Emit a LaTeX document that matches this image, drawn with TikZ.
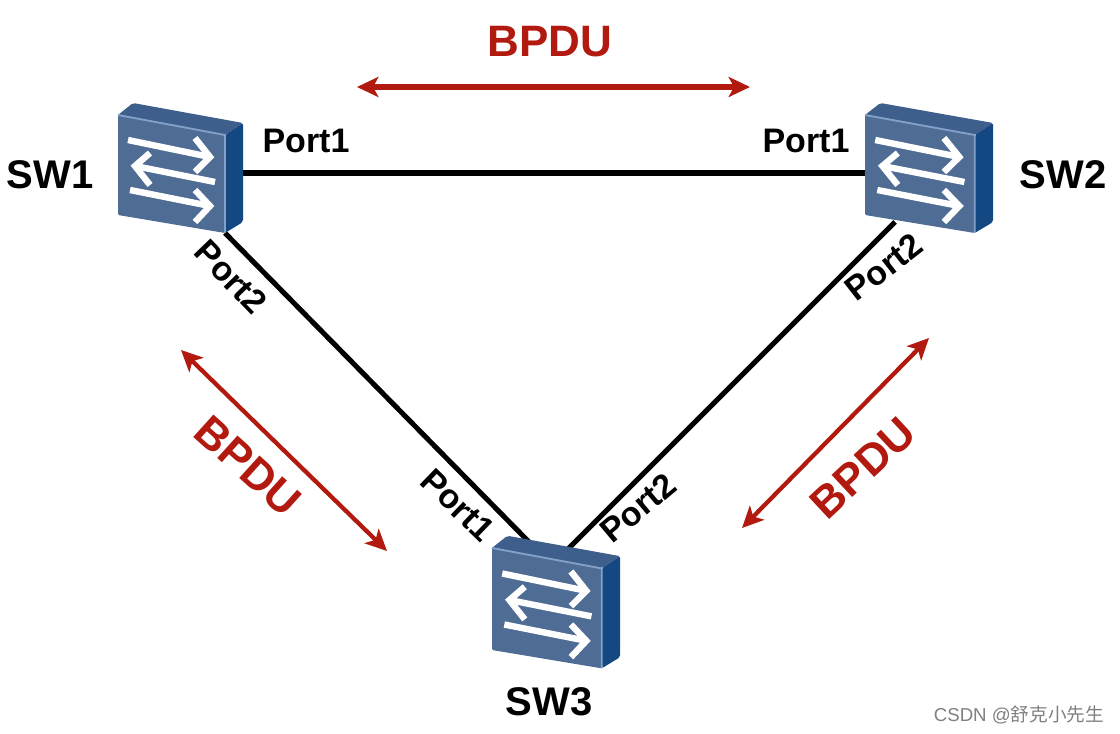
\documentclass[tikz,border=0pt]{standalone}
\usepackage{fontspec}
\setmainfont{Liberation Sans}
\newfontfamily\cjk{Noto Sans CJK SC}
\usetikzlibrary{arrows.meta}
\definecolor{swfront}{RGB}{79,108,148}
\definecolor{swtop}{RGB}{62,94,140}
\definecolor{swside}{RGB}{20,72,130}
\definecolor{swedge}{RGB}{130,160,200}
\definecolor{bpdured}{RGB}{178,26,16}
\tikzset{
    swname/.style = {font=\fontsize{30}{30}\bfseries\selectfont, inner sep=0pt},
    portname/.style = {font=\fontsize{25.5}{25.5}\bfseries\selectfont, inner sep=0pt},
    bpdu/.style = {font=\fontsize{33}{33}\bfseries\selectfont, text=bpdured, inner sep=0pt},
    link/.style = {draw=black, line width=3.8pt},
    flow/.style = {draw=bpdured, line width=3.2pt, {Stealth[length=16pt,width=15pt,inset=4pt]}-{Stealth[length=16pt,width=15pt,inset=4pt]}},
    swarrow/.style = {draw=white, line width=4.8pt, line cap=butt, line join=miter},
    switch/.pic = {
        \fill[swtop, rounded corners=1.5pt] (0,0) -- (15,-12) -- (125,8) -- (107,20) -- cycle;
        \fill[swside, rounded corners=1.5pt] (107,20) -- (125,8) -- (125,107) -- (107,118) -- cycle;
        \fill[swfront, rounded corners=1pt] (0,0) -- (107,20) -- (107,118) -- (0,100) -- cycle;
        \draw[swedge, line width=1.4pt] (0,0) -- (107,20) -- (107,118);
        \draw[swarrow] (10,25) -- (92,42);
        \draw[swarrow] (77,23) -- (92,42) -- (77,57);
        \draw[swarrow] (97,67) -- (17,51);
        \draw[swarrow] (32,38) -- (17,51) -- (32,70);
        \draw[swarrow] (12,75) -- (92,91);
        \draw[swarrow] (77,75) -- (92,91) -- (77,107);
    }
}
\begin{document}
\begin{tikzpicture}[x=0.75pt, y=-0.75pt]
\useasboundingbox (0,0) rectangle (1120,734);

% links go first so the switches sit on top of them
\coordinate (s1) at (118,115);
\coordinate (s2) at (865,115);
\coordinate (s3) at (492,548);
\coordinate (l13a) at (225,233);
\coordinate (l13b) at (530,543);
\coordinate (l23a) at (895,222);
\coordinate (l23b) at (567,550);
\coordinate (l12a) at (240,173);
\coordinate (l12b) at (870,173);
\draw[link] (l12a) -- (l12b);
\draw[link] (l13a) -- (l13b);
\draw[link] (l23a) -- (l23b);

\pic (sw1) at (s1) {switch};
\pic[xscale=1.025] (sw2) at (s2) {switch};
\pic[xscale=1.025, yscale=1.02] (sw3) at (s3) {switch};

\node[swname] (n1) at (50,175) {SW1};
\node[swname] (n2) at (1063,175) {SW2};
\node[swname] (n3) at (549,702) {SW3};

\node[portname] (p11) at (306,141) {Port1};
\node[portname] (p21) at (806,141) {Port1};
\node[portname, rotate=-46] (p12) at (231,277) {Port2};
\node[portname, rotate=38] (p22) at (884,267) {Port2};
\node[portname, rotate=-44] (p31) at (458,505) {Port1};
\node[portname, rotate=40] (p32) at (638,508) {Port2};

% BPDU arrows
\coordinate (a1) at (357,87);
\coordinate (a2) at (750,87);
\coordinate (b1) at (181,350);
\coordinate (b2) at (387,551);
\coordinate (c1) at (929,338);
\coordinate (c2) at (742,528);
\draw[flow, line width=3.9pt] (a1) -- (a2);
\draw[flow] (b1) -- (b2);
\draw[flow] (c1) -- (c2);
\node[bpdu] (t1) at (550,42) {BPDU};
\node[bpdu, rotate=-42] (t2) at (248,466) {BPDU};
\node[bpdu, rotate=43] (t3) at (863,468) {BPDU};

\node[inner sep=0pt, text=black!50, font=\fontsize{14}{14}\selectfont] (wm) at (1019,715) {CSDN @{\cjk 舒克小先生}};
\end{tikzpicture}
\end{document}
